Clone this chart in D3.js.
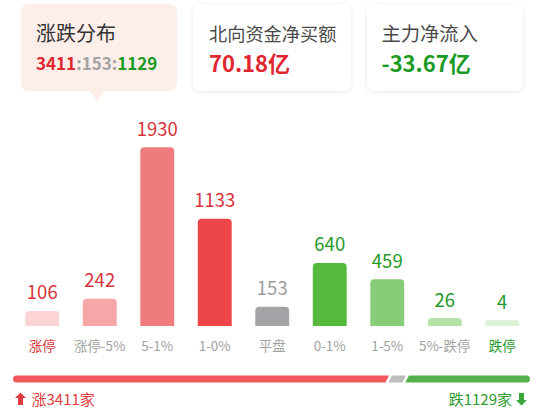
<!DOCTYPE html>
<html><head><meta charset="utf-8">
<script src="https://cdn.jsdelivr.net/npm/d3@7/dist/d3.min.js"></script>
<style>
html,body{margin:0;padding:0;background:#fff;}
svg{display:block;font-family:"Noto Sans CJK SC","Noto Sans",sans-serif;}
</style></head>
<body><svg id="c" width="542" height="410"></svg>
<script>
const categories = ["涨停","涨停-5%","5-1%","1-0%","平盘","0-1%","1-5%","5%-跌停","跌停"];
const values = [106,242,1930,1133,153,640,459,26,4];
const barColors = ["#fdd3d6","#f6a6a7","#f07b7c","#ee4549","#a4a3a7","#55ba3c","#87cc77","#b4e2a7","#dcf1d6"];
const labelColors = ["#d8333b","#d8333b","#d8333b","#d8333b","#9e9e9e","#1f9a2a","#1f9a2a","#1f9a2a","#1f9a2a"];
const catColors = ["#d8333b","#a3a3a3","#a3a3a3","#a3a3a3","#a3a3a3","#a3a3a3","#a3a3a3","#a3a3a3","#1f9a2a"];
const cardTitles = ["涨跌分布","北向资金净买额","主力净流入"];
const cardValues = ["70.18亿","-33.67亿"];
const ratioParts = [3411,153,1129];
const ratioColors = ["#e0262f","#a3a3a3","#1a9a22"];
const barTotals = ["涨3411家","跌1129家"];

const svg = d3.select("#c");
const defs = svg.append("defs");
const f = defs.append("filter").attr("id","sh").attr("x","-10%").attr("y","-10%").attr("width","120%").attr("height","130%");
f.append("feDropShadow").attr("dx",0).attr("dy",1).attr("stdDeviation",2).attr("flood-color","#000").attr("flood-opacity",0.10);

// cards
const cards = [{x:21,w:156,bg:"#fdeee9",sh:false},{x:193,w:158,bg:"#fff",sh:true},{x:367,w:156,bg:"#fff",sh:true}];
cards.forEach((c,i)=>{
  const r = svg.append("rect").attr("x",c.x).attr("y",4).attr("width",c.w).attr("height",87).attr("rx",8).attr("fill",c.bg);
  if(c.sh) r.attr("filter","url(#sh)");
});
svg.append("path").attr("d","M89,90 L97,101 L105,90 Z").attr("fill","#fdeee9");
const titleSizes = [20,18.2,19.3];
const titleColors = ["#333","#4a4a4a","#4a4a4a"];
const tx = [36,209,381.5];
cardTitles.forEach((t,i)=>{
  svg.append("text").attr("x",tx[i]).attr("y",40.5).attr("font-size",titleSizes[i]).attr("fill",titleColors[i]).text(t);
});
const rt = svg.append("text").attr("x",36).attr("y",69.5).attr("font-size",17).attr("font-weight","bold");
ratioParts.forEach((v,i)=>{
  if(i>0) rt.append("tspan").attr("fill","#a3a3a3").text(":");
  rt.append("tspan").attr("fill",ratioColors[i]).text(v);
});
svg.append("text").attr("x",209).attr("y",72).attr("font-size",22).attr("font-weight","bold").attr("fill","#e0262f").text(cardValues[0]);
svg.append("text").attr("x",381.5).attr("y",72).attr("font-size",22).attr("font-weight","bold").attr("fill","#1a9a22").text(cardValues[1]);

// bars
const base = 326;
const x = d3.scaleBand().domain(categories).range([13.5,531]).paddingInner(0.41).paddingOuter(0.205);
const y = d3.scaleLinear().domain([0,1930]).range([base-5.6,147.3]);
const bw = x.bandwidth();
const rr = 4;
function barPath(x0,y0,w,h){
  const r = Math.min(rr,h/2);
  return `M${x0},${base} L${x0},${y0+r} Q${x0},${y0} ${x0+r},${y0} L${x0+w-r},${y0} Q${x0+w},${y0} ${x0+w},${y0+r} L${x0+w},${base} Z`;
}
categories.forEach((c,i)=>{
  const x0 = x(c), y0 = y(values[i]);
  svg.append("path").attr("d",barPath(x0,y0,bw,base-y0)).attr("fill",barColors[i]);
  svg.append("text").attr("x",x0+bw/2).attr("y",y0-11.5).attr("text-anchor","middle")
    .attr("font-size",18.5).attr("fill",labelColors[i]).text(values[i]);
  svg.append("text").attr("x",x0+bw/2).attr("y",350.5).attr("text-anchor","middle")
    .attr("font-size",13.5).attr("fill",catColors[i]).text(c);
});

// progress bar
const total = d3.sum(ratioParts);
const px = d3.scaleLinear().domain([0,total]).range([13,530]);
const py0 = 375.5, py1 = 382.5, ph = py1-py0, sl = 3.5;
const xr = px(ratioParts[0]), xg = px(ratioParts[0]+ratioParts[1]);
svg.append("path").attr("d",`M${px(0)+ph/2},${py0} L${xr+sl/2-1.5},${py0} L${xr-sl/2-1.5},${py1} L${px(0)+ph/2},${py1} A${ph/2},${ph/2} 0 0 1 ${px(0)+ph/2},${py0} Z`).attr("fill","#f0585e");
svg.append("path").attr("d",`M${xr+sl/2+1.5},${py0} L${xg+sl/2-1.5},${py0} L${xg-sl/2-1.5},${py1} L${xr-sl/2+1.5},${py1} Z`).attr("fill","#bdbdbd");
svg.append("path").attr("d",`M${xg+sl/2+1.5},${py0} L${px(total)-ph/2},${py0} A${ph/2},${ph/2} 0 0 1 ${px(total)-ph/2},${py1} L${xg-sl/2+1.5},${py1} Z`).attr("fill","#55b14e");

// totals
svg.append("path").attr("d","M20.5,392.5 L26,398 L23,398 L23,405 L18,405 L18,398 L15,398 Z").attr("fill","#e03a40");
svg.append("text").attr("x",31.5).attr("y",404.5).attr("font-size",15).attr("fill","#e03a40").text(barTotals[0]);
svg.append("text").attr("x",512).attr("y",404.5).attr("font-size",15).attr("text-anchor","end").attr("fill","#2f9b2f").text(barTotals[1]);
svg.append("path").attr("d","M521.5,405.5 L527,400 L524,400 L524,393 L519,393 L519,400 L516,400 Z").attr("fill","#3aa63a");
</script></body></html>
